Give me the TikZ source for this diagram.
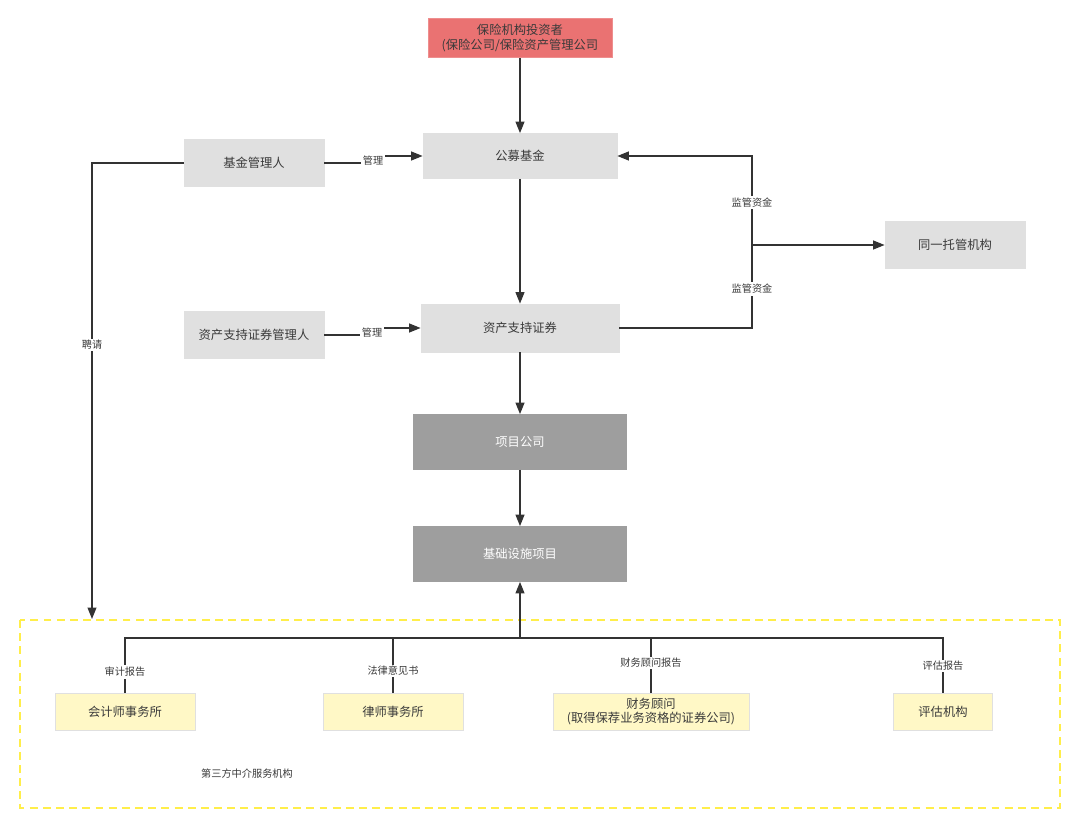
\documentclass[tikz,border=0pt]{standalone}
\usepackage{fontspec}
\setmainfont{Noto Sans CJK SC}
\usepackage{tikz}
\usetikzlibrary{arrows.meta}

\definecolor{boxgray}{HTML}{E0E0E0}
\definecolor{boxdark}{HTML}{9E9E9E}
\definecolor{boxred}{HTML}{EA7272}
\definecolor{boxyel}{HTML}{FFF8C6}
\definecolor{lnc}{HTML}{333333}
\definecolor{txtc}{HTML}{3A3A3A}
\definecolor{dashyel}{HTML}{FFEE4A}

\begin{document}
\begin{tikzpicture}[x=0.02cm,y=-0.02cm,
  box/.style={fill=boxgray,draw=boxgray,text=txtc,align=center,
    minimum width=2.8cm,minimum height=0.94cm,font=\fontsize{7}{8.5}\selectfont},
  darkbox/.style={box,fill=boxdark,draw=boxdark,text=white,minimum width=4.26cm,minimum height=1.1cm},
  redbox/.style={box,fill=boxred,draw=boxred!80!white},
  yelbox/.style={box,fill=boxyel,draw=boxgray,minimum height=0.74cm,inner sep=1pt},
  lbl/.style={fill=white,inner sep=1pt,text=txtc,font=\fontsize{5.8}{7}\selectfont},
  line/.style={draw=lnc,line width=0.85pt},
  arr/.style={line,-{Triangle[length=6.5pt,width=5pt]}}]
\useasboundingbox (0,0) rectangle (1080,828);

% upper part
\node[redbox,minimum width=3.68cm,minimum height=0.76cm] (inv) at (520,38) {保险机构投资者\\(保险公司/保险资产管理公司};
\node[box,minimum width=3.88cm,minimum height=0.9cm] (fund) at (520,156) {公募基金};
\node[box] (fm) at (254,163) {基金管理人};
\node[box,minimum width=3.96cm,minimum height=0.96cm] (abs) at (520,328) {资产支持证券};
\node[box] (am) at (254,335) {资产支持证券管理人};
\node[box] (cust) at (955,245) {同一托管机构};
\node[darkbox] (proj) at (520,442) {项目公司};
\node[darkbox] (infra) at (520,554) {基础设施项目};

\draw[arr] (inv) -- (fund);
\draw[arr] (fund) -- (abs);
\draw[arr] (abs) -- (proj);
\draw[arr] (proj) -- (infra);

\coordinate (g1) at (373,161);
\coordinate (g2) at (372,333);
\draw[arr] (fm) -- (fm -| g1) |- (fund);
\draw[arr] (am) -- (am -| g2) |- (abs);
\node[lbl] at (g1) {管理};
\node[lbl] at (g2) {管理};

\coordinate (jg) at (752,245);
\draw[arr] (abs) -| (jg) |- (fund);
\draw[arr] (jg) -- (cust);
\node[lbl] at (752,203) {监管资金};
\node[lbl] at (752,289) {监管资金};

\coordinate (hire) at (92,619);
\draw[arr] (fm) -| (hire);
\node[lbl] at (92,345) {聘请};

% third party
\draw[dashyel,line width=1.1pt,dash pattern=on 4.5pt off 3pt] (20,620) rectangle (1060,808);
\node[yelbox] (acct) at (125,712) {会计师事务所};
\node[yelbox] (law) at (393,712) {律师事务所};
\node[yelbox,minimum width=3.92cm,font=\fontsize{7}{8}\selectfont] (fa) at (651,712) {财务顾问\\(取得保荐业务资格的证券公司)};
\node[yelbox,minimum width=1.98cm] (eval) at (943,712) {评估机构};

\coordinate (bus) at (520,638);
\draw[line] (acct) |- (bus) -| (eval);
\draw[line] (law) -- (law |- bus);
\draw[line] (fa) -- (fa |- bus);
\draw[arr] (bus) -- (infra);
\node[lbl] at (125,672) {审计报告};
\node[lbl] at (393,671) {法律意见书};
\node[lbl] at (651,663) {财务顾问报告};
\node[lbl] at (943,666) {评估报告};
\node[lbl] at (247,774) {第三方中介服务机构};
\end{tikzpicture}
\end{document}
